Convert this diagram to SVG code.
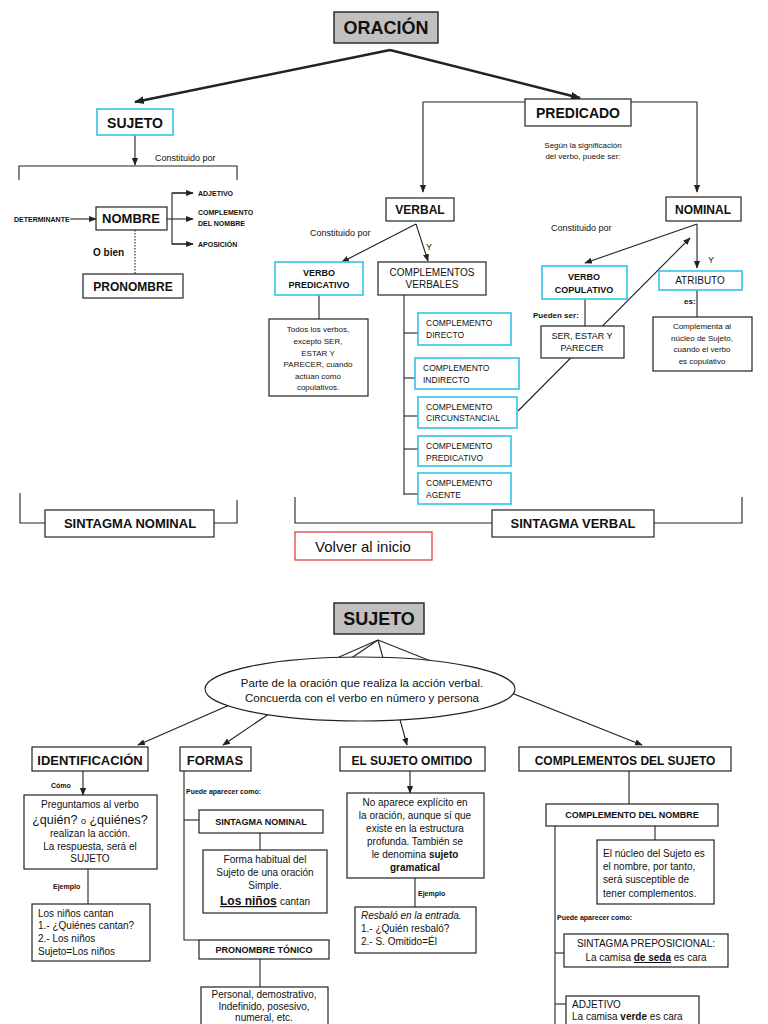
<svg xmlns="http://www.w3.org/2000/svg" width="768" height="1024" viewBox="0 0 768 1024">
<style>
text{font-family:"Liberation Sans",Arial,sans-serif;fill:#111}
.b{fill:#fff;stroke:#222;stroke-width:1.2}
.c{fill:#fff;stroke:#33c4e6;stroke-width:1.6}
.g{fill:#c0c0c0;stroke:#222;stroke-width:1.4}
.l{stroke:#222;stroke-width:1.1;fill:none}
.a{stroke:#222;stroke-width:1.1;fill:none;marker-end:url(#ar)}
.t{font-size:13px;font-weight:bold;text-anchor:middle}
.s{font-size:9px;text-anchor:middle}
.sb{font-size:9px;font-weight:bold;text-anchor:middle}
.tiny{font-size:7px;font-weight:bold}
.m{font-size:10px;text-anchor:middle}
.ml{font-size:10px}
</style>
<defs>
<marker id="ar" viewBox="0 0 10 10" refX="9" refY="5" markerWidth="7" markerHeight="7" orient="auto"><path d="M0,1L10,5L0,9z" fill="#222"/></marker>
<marker id="arb" viewBox="0 0 10 10" refX="9" refY="5" markerWidth="10" markerHeight="10" markerUnits="userSpaceOnUse" orient="auto"><path d="M0,1L10,5L0,9z" fill="#222"/></marker>
</defs>
<g id="connectors">
<line x1="390" y1="50" x2="135" y2="102" stroke="#222" stroke-width="2.5" marker-end="url(#arb)"/>
<line x1="390" y1="50" x2="580" y2="98" stroke="#222" stroke-width="2.5" marker-end="url(#arb)"/>
<line class="a" x1="135" y1="135" x2="135" y2="165"/>
<polyline class="l" points="19,180 19,166 237,166 237,180"/>
<line class="a" x1="70" y1="219" x2="96" y2="219"/>
<polyline class="l" points="167,219 172,219"/>
<polyline class="l" points="193,193 172,193 172,244 193,244"/>
<line class="a" x1="172" y1="193" x2="193" y2="193"/>
<line class="a" x1="172" y1="219" x2="193" y2="219"/>
<line class="a" x1="172" y1="244" x2="193" y2="244"/>
<line class="l" x1="135" y1="230" x2="135" y2="274" stroke-dasharray="1.5,1.5"/>
<polyline class="a" points="525,102 423,102 423,192"/>
<polyline class="a" points="631,102 697,102 697,192"/>
<line class="a" x1="416" y1="224" x2="342" y2="262"/>
<line class="a" x1="416" y1="224" x2="428" y2="261"/>
<line class="l" x1="319" y1="295" x2="319" y2="319"/>
<line class="l" x1="404" y1="295" x2="404" y2="495"/>
<line class="l" x1="404" y1="333" x2="418" y2="333"/>
<line class="l" x1="404" y1="378" x2="415" y2="378"/>
<line class="l" x1="404" y1="416" x2="418" y2="416"/>
<line class="l" x1="404" y1="449" x2="418" y2="449"/>
<line class="l" x1="404" y1="494" x2="418" y2="494"/>
<line class="a" x1="518" y1="411" x2="690" y2="238"/>
<line class="a" x1="697" y1="224" x2="585" y2="263"/>
<line class="a" x1="697" y1="224" x2="697" y2="268"/>
<line class="l" x1="585" y1="299" x2="585" y2="326"/>
<line class="l" x1="697" y1="290" x2="697" y2="317"/>
<polyline class="l" points="20,493 20,523 45,523"/>
<polyline class="l" points="214,523 237,523 237,500"/>
<polyline class="l" points="295,497 295,523 492,523"/>
<polyline class="l" points="654,523 742,523 742,497"/>
<line class="a" x1="378" y1="640" x2="138" y2="745"/>
<line class="a" x1="378" y1="640" x2="223" y2="745"/>
<line class="a" x1="378" y1="640" x2="407" y2="745"/>
<line class="a" x1="378" y1="640" x2="642" y2="745"/>
<line class="a" x1="83" y1="771" x2="83" y2="795"/>
<line class="l" x1="88" y1="869" x2="88" y2="904"/>
<polyline class="l" points="184,771 184,940 199,940"/>
<line class="l" x1="184" y1="820" x2="199" y2="820"/>
<line class="l" x1="260" y1="833" x2="260" y2="850"/>
<line class="l" x1="260" y1="959" x2="260" y2="987"/>
<line class="a" x1="410" y1="771" x2="410" y2="793"/>
<line class="l" x1="415" y1="878" x2="415" y2="907"/>
<line class="l" x1="629" y1="771" x2="629" y2="804"/>
<line class="l" x1="555" y1="826" x2="555" y2="1024"/>
<line class="l" x1="655" y1="826" x2="655" y2="840"/>
<line class="l" x1="555" y1="953" x2="564" y2="953"/>
<line class="l" x1="555" y1="1004" x2="566" y2="1004"/>
</g>
<g id="labels">
<text x="155" y="161" style="font-size:9px">Constituido por</text>
<text x="14" y="222" class="tiny">DETERMINANTE</text>
<text x="198" y="196" class="tiny">ADJETIVO</text>
<text x="198" y="215" class="tiny">COMPLEMENTO</text>
<text x="198" y="226" class="tiny">DEL NOMBRE</text>
<text x="198" y="247" class="tiny">APOSICIÓN</text>
<text x="93" y="256" style="font-size:10px;font-weight:bold">O bien</text>
<text x="583" y="148" class="s" style="font-size:8px">Según la significación</text>
<text x="583" y="159" class="s" style="font-size:8px">del verbo, puede ser:</text>
<text x="310" y="236" style="font-size:9px">Constituido por</text>
<text x="426" y="250" style="font-size:9px">Y</text>
<text x="551" y="231" style="font-size:9px">Constituido por</text>
<text x="708" y="263" style="font-size:9px">Y</text>
<text x="533" y="318" style="font-size:8px;font-weight:bold">Pueden ser:</text>
<text x="684" y="304" style="font-size:8px;font-weight:bold">es:</text>
<text x="51" y="788" style="font-size:7px;font-weight:bold">Cómo</text>
<text x="53" y="889" style="font-size:7px;font-weight:bold">Ejemplo</text>
<text x="186" y="794" style="font-size:7px;font-weight:bold">Puede aparecer como:</text>
<text x="418" y="896" style="font-size:7px;font-weight:bold">Ejemplo</text>
<text x="557" y="920" style="font-size:7px;font-weight:bold">Puede aparecer como:</text>
</g>
<g id="oracion"><rect class="g" x="334" y="12" width="104" height="31"/><text x="386" y="34" class="t" style="font-size:18px">ORACIÓN</text></g>
<g id="sujeto"><rect class="c" x="97" y="109" width="76" height="26"/><text x="135" y="128" class="t" style="font-size:14px">SUJETO</text></g>
<g id="nombre"><rect class="b" x="96" y="207" width="71" height="23"/><text x="131" y="223" class="t">NOMBRE</text></g>
<g id="pronombre"><rect class="b" x="83" y="274" width="100" height="24"/><text x="133" y="291" class="t" style="font-size:12px">PRONOMBRE</text></g>
<g id="predicado"><rect class="b" x="525" y="99" width="106" height="27"/><text x="578" y="118" class="t" style="font-size:14px">PREDICADO</text></g>
<g id="verbal"><rect class="b" x="386" y="198" width="68" height="23"/><text x="420" y="214" class="t" style="font-size:12px">VERBAL</text></g>
<g id="nominal"><rect class="b" x="666" y="197" width="75" height="24"/><text x="703" y="214" class="t" style="font-size:12px">NOMINAL</text></g>
<g id="verbopred"><rect class="c" x="275" y="262" width="88" height="33"/><text x="319" y="276" class="sb">VERBO</text><text x="319" y="288" class="sb">PREDICATIVO</text></g>
<g id="compverb"><rect class="b" x="378" y="262" width="108" height="33"/><text x="432" y="276" class="m">COMPLEMENTOS</text><text x="432" y="288" class="m">VERBALES</text></g>
<g id="todos"><rect class="b" x="269" y="319" width="99" height="77"/>
<text x="318" y="332" class="s" style="font-size:8px">Todos los verbos,</text><text x="318" y="344" class="s" style="font-size:8px">excepto SER,</text><text x="318" y="356" class="s" style="font-size:8px">ESTAR Y</text><text x="318" y="367" class="s" style="font-size:8px">PARECER, cuando</text><text x="318" y="379" class="s" style="font-size:8px">actúan como</text><text x="318" y="390" class="s" style="font-size:8px">copulativos.</text></g>
<g id="cd"><rect class="c" x="418" y="313" width="93" height="32"/><text x="426" y="326" style="font-size:8.5px">COMPLEMENTO</text><text x="426" y="338" style="font-size:8.5px">DIRECTO</text></g>
<g id="ci"><rect class="c" x="415" y="358" width="104" height="31"/><text x="423" y="371" style="font-size:8.5px">COMPLEMENTO</text><text x="423" y="383" style="font-size:8.5px">INDIRECTO</text></g>
<g id="cc"><rect class="c" x="418" y="397" width="99" height="31"/><text x="426" y="410" style="font-size:8.5px">COMPLEMENTO</text><text x="426" y="421" style="font-size:8.5px">CIRCUNSTANCIAL</text></g>
<g id="cp"><rect class="c" x="418" y="436" width="93" height="30"/><text x="426" y="449" style="font-size:8.5px">COMPLEMENTO</text><text x="426" y="461" style="font-size:8.5px">PREDICATIVO</text></g>
<g id="ca"><rect class="c" x="418" y="473" width="93" height="31"/><text x="426" y="486" style="font-size:8.5px">COMPLEMENTO</text><text x="426" y="498" style="font-size:8.5px">AGENTE</text></g>
<g id="verbocop"><rect class="c" x="542" y="266" width="85" height="33"/><text x="584" y="280" class="sb">VERBO</text><text x="584" y="293" class="sb">COPULATIVO</text></g>
<g id="atributo"><rect class="c" x="659" y="271" width="83" height="19"/><text x="700" y="284" class="m">ATRIBUTO</text></g>
<g id="ser"><rect class="b" x="541" y="326" width="83" height="32"/><text x="582" y="339" class="s">SER, ESTAR Y</text><text x="582" y="351" class="s">PARECER</text></g>
<g id="complementa"><rect class="b" x="653" y="317" width="99" height="54"/><text x="702" y="329" class="s" style="font-size:8px">Complementa al</text><text x="702" y="341" class="s" style="font-size:8px">núcleo de Sujeto,</text><text x="702" y="352" class="s" style="font-size:8px">cuando el verbo</text><text x="702" y="364" class="s" style="font-size:8px">es copulativo</text></g>
<g id="sn"><rect class="b" x="45" y="510" width="169" height="27"/><text x="130" y="528" class="t">SINTAGMA NOMINAL</text></g>
<g id="sv"><rect class="b" x="492" y="510" width="162" height="27"/><text x="573" y="528" class="t">SINTAGMA VERBAL</text></g>
<g id="volver"><rect x="295" y="532" width="137" height="28" fill="#fff" stroke="#e03030" stroke-width="1.2"/><text x="363" y="552" class="m" style="font-size:15px">Volver al inicio</text></g>
<g id="sujeto2"><rect class="g" x="334" y="603" width="90" height="31"/><text x="379" y="625" class="t" style="font-size:18px">SUJETO</text></g>
<g id="definicion"><ellipse cx="360" cy="689" rx="155" ry="32" fill="#fff" stroke="#222" stroke-width="1.1"/><text x="362" y="687" class="m" style="font-size:11.5px">Parte de la oración que realiza la acción verbal.</text><text x="362" y="702" class="m" style="font-size:11.5px">Concuerda con el verbo en número y persona</text></g>
<g id="ident"><rect class="b" x="32" y="747" width="116" height="24"/><text x="90" y="765" class="t">IDENTIFICACIÓN</text></g>
<g id="formas"><rect class="b" x="180" y="747" width="71" height="24"/><text x="215" y="765" class="t">FORMAS</text></g>
<g id="omitido"><rect class="b" x="340" y="747" width="145" height="24"/><text x="412" y="765" class="t" style="font-size:12px">EL SUJETO OMITIDO</text></g>
<g id="compsuj"><rect class="b" x="519" y="747" width="212" height="24"/><text x="625" y="765" class="t" style="font-size:12px">COMPLEMENTOS  DEL SUJETO</text></g>
<g id="preguntamos"><rect class="b" x="24" y="795" width="133" height="74"/><text x="90" y="808" class="m">Preguntamos al verbo</text><text x="90" y="824" class="m" style="font-size:12.5px">¿quién? <tspan style="font-size:9px">o</tspan> ¿quiénes?</text><text x="90" y="837" class="m">realizan la acción.</text><text x="90" y="850" class="m">La respuesta, será el</text><text x="90" y="862" class="m">SUJETO</text></g>
<g id="ejemplo1"><rect class="b" x="32" y="904" width="118" height="57"/><text x="38" y="917" class="ml">Los niños cantan</text><text x="38" y="929" class="ml">1.- ¿Quiénes cantan?</text><text x="38" y="942" class="ml">2.- Los niños</text><text x="38" y="955" class="ml">Sujeto=Los niños</text></g>
<g id="sn2"><rect class="b" x="199" y="810" width="124" height="23"/><text x="261" y="825" class="sb">SINTAGMA NOMINAL</text></g>
<g id="habitual"><rect class="b" x="203" y="850" width="124" height="63"/><text x="265" y="863" class="m">Forma habitual del</text><text x="265" y="876" class="m">Sujeto de una oración</text><text x="265" y="889" class="m">Simple.</text><text x="265" y="905" class="m" style="font-size:12px"><tspan font-weight="bold" text-decoration="underline">Los niños</tspan> <tspan style="font-size:10px">cantan</tspan></text></g>
<g id="pronton"><rect class="b" x="199" y="940" width="130" height="19"/><text x="264" y="953" class="sb">PRONOMBRE TÓNICO</text></g>
<g id="personal"><rect class="b" x="201" y="987" width="127" height="45"/><text x="264" y="998" class="m">Personal, demostrativo,</text><text x="264" y="1010" class="m">Indefinido, posesivo,</text><text x="264" y="1021" class="m">numeral, etc.</text></g>
<g id="noaparece"><rect class="b" x="347" y="793" width="137" height="85"/><text x="415" y="806" class="m">No aparece explícito en</text><text x="415" y="819" class="m">la oración, aunque sí que</text><text x="415" y="832" class="m">existe en la estructura</text><text x="415" y="845" class="m">profunda. También se</text><text x="415" y="858" class="m">le denomina <tspan font-weight="bold">sujeto</tspan></text><text x="415" y="871" class="m" font-weight="bold">gramatical</text></g>
<g id="resbalo"><rect class="b" x="355" y="907" width="121" height="46"/><text x="361" y="919" class="ml" font-style="italic">Resbaló en la entrada.</text><text x="361" y="932" class="ml">1.- ¿Quién resbaló?</text><text x="361" y="945" class="ml">2.- S. Omitido=Él</text></g>
<g id="cn"><rect class="b" x="546" y="804" width="172" height="22"/><text x="632" y="818" class="sb">COMPLEMENTO DEL NOMBRE</text></g>
<g id="nucleo"><rect class="b" x="597" y="840" width="117" height="64"/><text x="603" y="857" class="ml">El núcleo del Sujeto es</text><text x="603" y="870" class="ml">el nombre, por tanto,</text><text x="603" y="883" class="ml">será susceptible de</text><text x="603" y="897" class="ml">tener  complementos.</text></g>
<g id="sprep"><rect class="b" x="564" y="934" width="164" height="33"/><text x="646" y="947" class="m">SINTAGMA PREPOSICIONAL:</text><text x="646" y="961" class="m">La camisa <tspan font-weight="bold" text-decoration="underline">de seda</tspan> es cara</text></g>
<g id="adjetivo"><rect class="b" x="566" y="996" width="133" height="36"/><text x="572" y="1008" class="ml">ADJETIVO</text><text x="572" y="1020" class="ml">La camisa <tspan font-weight="bold">verde</tspan> es cara</text></g>
</svg>
